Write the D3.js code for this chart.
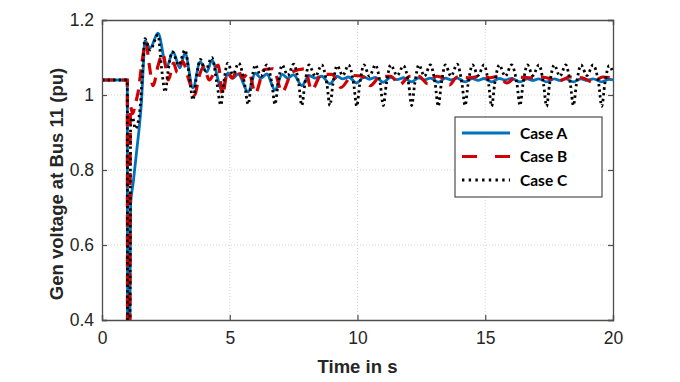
<!DOCTYPE html>
<html><head><meta charset="utf-8">
<script src="https://cdn.jsdelivr.net/npm/d3@7"></script>
<style>body{margin:0;background:#fff}svg{display:block}</style>
</head><body>
<svg id="chart" width="680" height="382"></svg>
<script>
// ---- data ----
const xTicks = [0, 5, 10, 15, 20];
const yTicks = [0.4, 0.6, 0.8, 1.0, 1.2];
const yTickLabels = ["0.4", "0.6", "0.8", "1", "1.2"];
const seriesNames = ["Case A", "Case B", "Case C"];

const tA = [0,0.99,1.0,1.09,1.12,1.22,1.36,1.46,1.55,1.62,1.68,1.88,2.19,2.53,2.78,3.05,3.25,3.56,3.84,4.1,4.3,4.7,4.93,5.12,5.33,5.72,
  6.0,6.22,6.45,6.77,7.05,7.27,7.5,7.82,8.1,8.35,8.6,8.92,9.2,9.42,9.65,9.97,10.25,10.47,10.7,11.01,11.3,11.55,11.8,12.12,12.4,12.62,12.85,13.16,13.44,13.66,13.9,14.21,14.5,14.72,14.95,15.25,15.55,15.78,16.03,16.36,16.65,16.86,17.1,17.4,17.7,17.92,18.15,18.45,18.75,18.98,19.22,19.56,19.85,20.0];
const vA = [1.04,1.04,0.35,0.35,0.71,0.765,0.853,0.915,0.987,1.08,1.145,1.125,1.165,1.075,1.115,1.072,1.112,1.019,1.088,1.061,1.093,1.013,1.059,1.045,1.056,1.008,
  1.058,1.045,1.056,1.013,1.055,1.045,1.054,1.025,1.052,1.045,1.05,1.03,1.05,1.043,1.048,1.032,1.048,1.042,1.047,1.034,1.047,1.041,1.046,1.035,1.046,1.04,1.045,1.034,1.045,1.04,1.045,1.035,1.044,1.039,1.044,1.035,1.044,1.04,1.044,1.035,1.043,1.039,1.043,1.035,1.043,1.039,1.043,1.035,1.043,1.039,1.043,1.035,1.042,1.04];

const tB = [0,0.99,1.0,1.09,1.11,1.2,1.3,1.42,1.57,1.72,1.85,2.0,2.2,2.38,2.6,2.8,2.95,3.15,3.4,3.62,3.8,3.98,4.2,4.55,4.72,4.9,5.1,5.3,5.5,5.75,6.0,6.35,6.7,7.05,7.45,7.95,8.2,8.6,9.0,9.35,9.8,10.2,10.5,10.9,11.3,11.65,12.05,12.4,12.75,13.1,13.35,13.6,13.9,14.4,14.8,15.2,15.5,15.85,16.2,16.7,17.2,17.9,18.3,18.8,19.2,19.6,20.0];
const vB = [1.04,1.04,0.35,0.35,0.97,0.95,0.975,1.01,1.09,1.14,1.08,1.025,1.08,1.11,1.04,1.085,1.06,1.09,1.04,1.0,1.05,1.075,1.04,1.08,1.0,1.06,1.045,1.07,1.045,1.06,1.005,1.068,1.07,1.008,1.062,1.07,1.013,1.055,1.055,1.02,1.052,1.05,1.025,1.05,1.05,1.028,1.05,1.05,1.03,1.05,1.045,1.027,1.048,1.046,1.05,1.046,1.05,1.032,1.048,1.046,1.048,1.038,1.048,1.046,1.035,1.048,1.045];

const tC = [0,0.99,1.0,1.09,1.12,1.2,1.3,1.42,1.52,1.6,1.68,1.88,2.19,2.35,2.47,2.6,2.75,3.0,3.25,3.42,3.56,3.7,3.85,4.05,4.3,4.5,4.65,4.78,4.92,5.12,5.35,5.58,5.72,
  5.84,6.0,6.22,6.45,6.65,6.77,6.89,7.05,7.27,7.5,7.7,7.82,7.94,8.1,8.35,8.6,8.8,8.92,9.04,9.2,9.42,9.65,9.85,9.97,10.09,10.25,10.47,10.7,10.89,11.01,11.13,11.3,11.55,11.8,12.0,12.12,12.24,12.4,12.62,12.85,13.04,13.16,13.28,13.44,13.66,13.9,14.09,14.21,14.33,14.5,14.72,14.95,15.13,15.25,15.37,15.55,15.78,16.03,16.24,16.36,16.48,16.65,16.86,17.1,17.28,17.4,17.52,17.7,17.92,18.15,18.33,18.45,18.57,18.75,18.98,19.22,19.44,19.56,19.68,19.85,20.0];
const vC = [1.04,1.04,0.35,0.35,0.92,0.94,0.91,0.93,0.99,1.08,1.15,1.12,1.16,1.06,1.008,1.07,1.115,1.08,1.12,1.05,0.987,1.05,1.095,1.065,1.1,1.03,0.973,1.04,1.085,1.055,1.085,1.03,0.975,
  1.03,1.08,1.05,1.08,1.03,0.975,1.03,1.08,1.052,1.082,1.03,0.972,1.03,1.08,1.05,1.08,1.03,0.972,1.03,1.078,1.052,1.08,1.03,0.97,1.03,1.08,1.05,1.08,1.03,0.972,1.03,1.08,1.052,1.078,1.03,0.972,1.03,1.08,1.05,1.08,1.03,0.97,1.03,1.08,1.05,1.082,1.03,0.972,1.03,1.08,1.052,1.08,1.03,0.97,1.03,1.08,1.05,1.08,1.03,0.972,1.03,1.08,1.052,1.08,1.03,0.97,1.03,1.08,1.05,1.08,1.03,0.972,1.03,1.08,1.052,1.08,1.03,0.97,1.03,1.078,1.06];

// ---- layout ----
const svg = d3.select("#chart");
const L = 102, R = 613, T = 20, B = 320;
const x = d3.scaleLinear().domain([0, 20]).range([L, R]);
const y = d3.scaleLinear().domain([0.4, 1.2]).range([B, T]);
const axisCol = "#4d4d4d", textCol = "#262626";
const FONT = "'Liberation Sans', Arial, sans-serif";

svg.append("defs").append("clipPath").attr("id","clip")
  .append("rect").attr("x",L).attr("y",T).attr("width",R-L).attr("height",B-T);

// grid
const grid = svg.append("g");
grid.selectAll(".gx").data(xTicks.slice(1,-1)).join("line")
  .attr("x1",d=>x(d)).attr("x2",d=>x(d)).attr("y1",T).attr("y2",B)
  .attr("stroke","#d4d4d4").attr("stroke-width",1).attr("stroke-dasharray","1,2");
grid.selectAll(".gy").data(yTicks.slice(1,-1)).join("line")
  .attr("y1",d=>y(d)).attr("y2",d=>y(d)).attr("x1",L).attr("x2",R)
  .attr("stroke","#d4d4d4").attr("stroke-width",1).attr("stroke-dasharray","1,2");

// lines
const line = (tt, vv) => d3.line().x((d,i)=>x(tt[i])).y((d,i)=>y(vv[i])).curve(d3.curveMonotoneX)(tt);
const plot = svg.append("g").attr("clip-path","url(#clip)");
plot.append("path").attr("d", line(tA, vA)).attr("fill","none").attr("stroke","#0072bd").attr("stroke-width",2.8);
plot.append("path").attr("d", line(tB, vB)).attr("fill","none").attr("stroke","#d20000").attr("stroke-width",3.2).attr("stroke-dasharray","12,8");
plot.append("path").attr("d", line(tC, vC)).attr("fill","none").attr("stroke","#000").attr("stroke-width",2.8).attr("stroke-dasharray","2.4,3.2");

// axes
const fmtY = d => yTickLabels[yTicks.indexOf(d)];
const gx = svg.append("g").attr("transform",`translate(0,${B})`)
  .call(d3.axisBottom(x).tickValues(xTicks).tickSize(-5).tickPadding(12));
const gy = svg.append("g").attr("transform",`translate(${L},0)`)
  .call(d3.axisLeft(y).tickValues(yTicks).tickFormat(fmtY).tickSize(-5).tickPadding(8));
const gx2 = svg.append("g").attr("transform",`translate(0,${T})`)
  .call(d3.axisTop(x).tickValues(xTicks).tickSize(-5).tickFormat(""));
const gy2 = svg.append("g").attr("transform",`translate(${R},0)`)
  .call(d3.axisRight(y).tickValues(yTicks).tickSize(-5).tickFormat(""));
[gx,gy,gx2,gy2].forEach(g=>{
  g.select(".domain").attr("stroke",axisCol).attr("stroke-width",1.3);
  g.selectAll(".tick line").attr("stroke",axisCol).attr("stroke-width",1.2);
  g.selectAll("text").attr("fill",textCol).style("font-family",FONT).style("font-size","17.5px");
});

// axis titles
svg.append("text").attr("x",(L+R)/2).attr("y",373).attr("text-anchor","middle")
  .attr("fill",textCol).style("font-family",FONT).style("font-size","18.5px").style("font-weight","bold")
  .text("Time in s");
svg.append("text").attr("transform",`translate(63,${(T+B)/2+14}) rotate(-90)`).attr("text-anchor","middle")
  .attr("fill",textCol).style("font-family",FONT).style("font-size","18.5px").style("font-weight","bold")
  .text("Gen voltage at Bus 11 (pu)");

// legend
const lg = svg.append("g");
lg.append("rect").attr("x",455).attr("y",117).attr("width",147).attr("height",80)
  .attr("fill","#fff").attr("stroke",axisCol).attr("stroke-width",1.2);
const lstyles = [
  {c:"#0072bd", w:3, dash:null},
  {c:"#d20000", w:3.2, dash:"15,18"},
  {c:"#000", w:2.8, dash:"2.4,4.3"}
];
seriesNames.forEach((n,i)=>{
  const yy = 133 + i*23.5;
  const s = lstyles[i];
  const l = lg.append("line").attr("x1",462).attr("x2",510).attr("y1",yy).attr("y2",yy)
    .attr("stroke",s.c).attr("stroke-width",s.w);
  if (s.dash) l.attr("stroke-dasharray",s.dash);
  lg.append("text").attr("x",520).attr("y",yy+5.5).attr("fill","#000")
    .style("font-family","Lato, 'Open Sans', sans-serif").style("font-size","15.5px").style("font-weight","bold").text(n);
});
</script>
</body></html>
